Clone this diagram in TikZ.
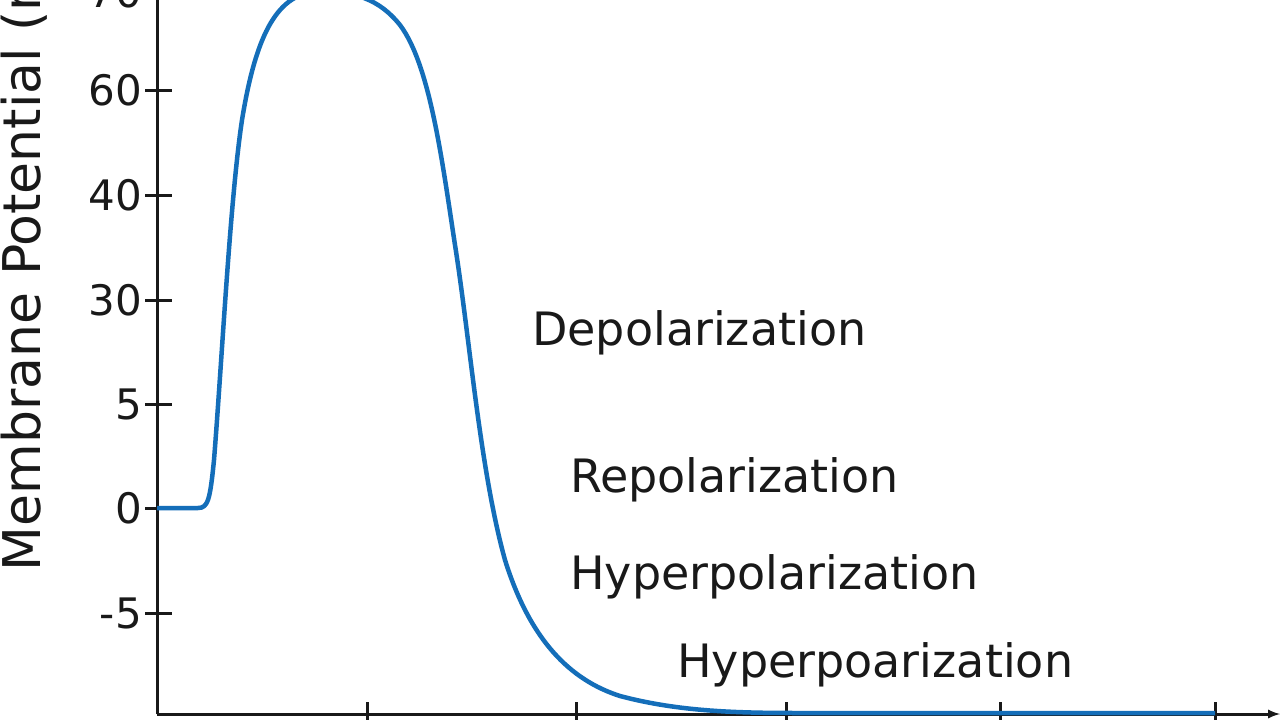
\documentclass[tikz,border=0pt]{standalone}
\usepackage{fontspec}
\setmainfont{DejaVu Sans}
\begin{document}
\begin{tikzpicture}[x=1pt,y=-1pt,
  ax/.style={line width=3pt,black!90},
  ticklab/.style={anchor=east,font=\fontsize{42}{48}\selectfont,text=black!90,inner sep=0pt},
  lab/.style={anchor=west,font=\fontsize{46}{52}\selectfont,text=black!90,inner sep=0pt},
  curve/.style={line width=4.5pt,color={rgb,255:red,20;green,110;blue,185}}]
\useasboundingbox (0,0) rectangle (1280,720);
\fill[white] (0,0) rectangle (1280,720);
\coordinate (yt) at (157,-20);
\coordinate (o) at (157,714);
\coordinate (xe) at (1280,714);
\draw[ax] (o) -- (yt);
\draw[ax,-latex] (o) -- (xe);
\foreach \y/\t in {-8/70,90/60,195/40,300/30,404/5,508/0,613/-5}{
  \draw[ax] (145,\y) -- (172,\y);
  \node[ticklab] at (142,\y) {\t};
}
\foreach \x in {367,576,786,1000,1215}{
  \draw[ax] (\x,702) -- (\x,722);
}
\node[rotate=90,font=\fontsize{52}{58}\selectfont,text=black!90] (yl) at (24,238) {Membrane Potential (mV)};
\draw[curve] (157,508) -- (198,508) .. controls (208,508) and (210,500) .. (214,460)
  .. controls (222,360) and (230,200) .. (242,120)
  .. controls (255,40) and (275,-5) .. (315,-8)
  .. controls (355,-10) and (380,0) .. (400,25)
  .. controls (430,65) and (442,160) .. (455,245)
  .. controls (470,340) and (480,470) .. (505,560)
  .. controls (530,640) and (570,680) .. (620,696)
  .. controls (680,712) and (740,713) .. (800,713) -- (1215,713);
\node[lab] (d) at (532,333) {Depolarization};
\node[lab] (r) at (570,480) {Repolarization};
\node[lab] (h) at (570,577) {Hyperpolarization};
\node[lab] (h2) at (677,665) {Hyperpoarization};
\end{tikzpicture}
\end{document}
